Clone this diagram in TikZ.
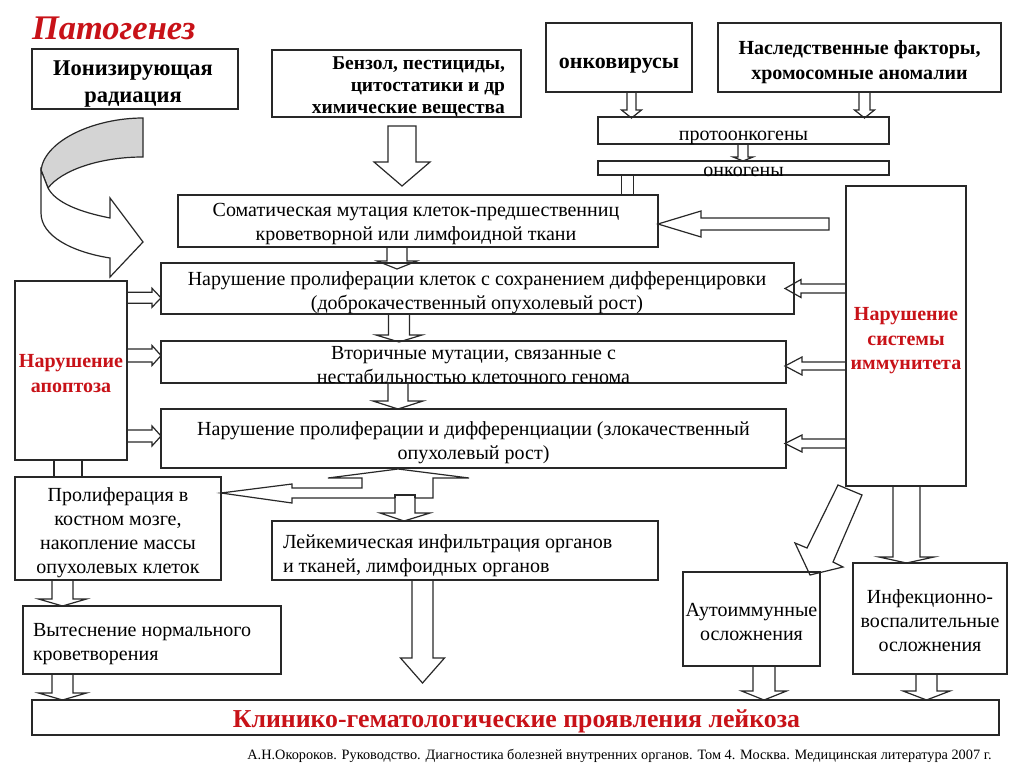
\documentclass[tikz,border=0pt]{standalone}
\usepackage{fontspec}
\setmainfont{Liberation Serif}
\definecolor{redt}{RGB}{200,18,24}
\definecolor{ribbongray}{RGB}{212,212,212}
\definecolor{linec}{RGB}{40,40,40}
\newcommand\bodyf{\fontsize{20}{24}\selectfont}
\newcommand\boldf{\fontsize{22.5}{27}\selectfont\bfseries}
\newcommand\redf{\fontsize{20}{24.5}\selectfont\bfseries\color{redt}}
% hollow block arrows: down / left / right
\newcommand\dnarr[6]{% cx, ytail, ytip, shaft half, head half, head length
  \draw[arr] ({#1-#4},#2) -- ({#1-#4},{#3-#6}) -- ({#1-#5},{#3-#6}) -- (#1,#3) -- ({#1+#5},{#3-#6}) -- ({#1+#4},{#3-#6}) -- ({#1+#4},#2) -- cycle;}
\newcommand\lfarr[6]{% cy, xtail, xtip, shaft half, head half, head length
  \draw[arr] (#2,{#1-#4}) -- ({#3+#6},{#1-#4}) -- ({#3+#6},{#1-#5}) -- (#3,#1) -- ({#3+#6},{#1+#5}) -- ({#3+#6},{#1+#4}) -- (#2,{#1+#4}) -- cycle;}
\newcommand\rtarr[6]{% cy, xtail, xtip, shaft half, head half, head length
  \draw[arr] (#2,{#1-#4}) -- ({#3-#6},{#1-#4}) -- ({#3-#6},{#1-#5}) -- (#3,#1) -- ({#3-#6},{#1+#5}) -- ({#3-#6},{#1+#4}) -- (#2,{#1+#4}) -- cycle;}
\begin{document}
\begin{tikzpicture}[x=1pt,y=-1pt,
  box/.style={draw=linec, line width=1.3pt, inner sep=0pt, outer sep=0pt},
  txt/.style={inner sep=0pt, outer sep=0pt, align=center},
  arr/.style={draw=linec, line width=1.2pt, line join=miter}]
\useasboundingbox (0,0) rectangle (1024,767);
\fill[white] (0,0) rectangle (1024,767);

% title
\node[txt, anchor=base west, font=\fontsize{34.5}{38}\selectfont\bfseries\itshape, text=redt] (title) at (32,40) {Патогенез};

% top cause boxes
\node[box, minimum width=206pt, minimum height=60pt] (ion) at (135,79) {};
\node[txt, font=\boldf] (ionT) at (133,84) {Ионизирующая\\радиация};
\node[box, minimum width=249pt, minimum height=67pt] (benz) at (396.5,83.5) {};
\node[txt, font=\fontsize{19.5}{22}\selectfont\bfseries, align=right, anchor=east] (benzT) at (505,87) {Бензол, пестициды,\\цитостатики и др\\химические вещества};
\node[box, minimum width=146pt, minimum height=69pt] (onkov) at (619,57.5) {};
\node[txt, font=\fontsize{22}{26}\selectfont\bfseries] (onkovT) at (619,66) {онковирусы};
\node[box, minimum width=283pt, minimum height=69pt] (nasl) at (859.5,57.5) {};
\node[txt, font=\fontsize{20}{25}\selectfont\bfseries] (naslT) at (859.5,62.5) {Наследственные факторы,\\хромосомные аномалии};
\node[box, minimum width=291pt, minimum height=27pt] (proto) at (743.5,130.5) {};
\node[txt, font=\bodyf] (protoT) at (743.5,137.5) {протоонкогены};
\node[box, minimum width=291pt, minimum height=14pt] (onkog) at (743.5,168) {};
\node[txt, font=\bodyf] (onkogT) at (743.5,172) {онкогены};

% main chain
\node[box, minimum width=480pt, minimum height=52pt] (soma) at (418,221) {};
\node[txt, font=\bodyf] (somaT) at (416,224) {Соматическая мутация клеток-предшественниц\\кроветворной или лимфоидной ткани};
\node[box, minimum width=633pt, minimum height=51pt] (nar1) at (477.5,288.5) {};
\node[txt, font=\bodyf] (nar1T) at (477,292.5) {Нарушение пролиферации клеток с сохранением дифференцировки\\(доброкачественный опухолевый рост)};
\node[box, minimum width=625pt, minimum height=42pt] (vtor) at (473.5,362) {};
\node[txt, font=\bodyf] (vtorT) at (473.5,365.5) {Вторичные мутации, связанные с\\нестабильностью клеточного генома};
\node[box, minimum width=625pt, minimum height=59pt] (nar2) at (473.5,438.5) {};
\node[txt, font=\bodyf] (nar2T) at (473.5,443) {Нарушение пролиферации и дифференциации (злокачественный\\опухолевый рост)};

% side boxes
\node[box, minimum width=112pt, minimum height=179pt] (apop) at (71,370.5) {};
\node[txt, font=\redf] (apopT) at (71,373.5) {Нарушение\\апоптоза};
\node[box, minimum width=120pt, minimum height=300pt] (imm) at (906,336) {};
\node[txt, font=\redf] (immT) at (906,341) {Нарушение\\системы\\иммунитета};

% lower boxes
\node[box, minimum width=206pt, minimum height=103pt] (prol) at (118,528.5) {};
\node[txt, font=\bodyf] (prolT) at (118,533) {Пролиферация в\\костном мозге,\\накопление массы\\опухолевых клеток};
\node[box, minimum width=258pt, minimum height=68pt] (vyt) at (152,640) {};
\node[txt, font=\bodyf, align=left, anchor=west] (vytT) at (33,644.5) {Вытеснение нормального\\кроветворения};
\node[box, minimum width=386pt, minimum height=59pt] (leyk) at (465,550.5) {};
\node[txt, font=\bodyf, align=left, anchor=west] (leykT) at (283,556) {Лейкемическая инфильтрация органов\\и тканей, лимфоидных органов};
\node[box, minimum width=137pt, minimum height=94pt] (auto) at (751.5,619) {};
\node[txt, font=\bodyf] (autoT) at (751.5,622) {Аутоиммунные\\осложнения};
\node[box, minimum width=154pt, minimum height=111pt] (inf) at (930,618.5) {};
\node[txt, font=\bodyf] (infT) at (930,621) {Инфекционно-\\воспалительные\\осложнения};
\node[box, minimum width=967pt, minimum height=35pt] (klin) at (515.5,717.5) {};
\node[txt, font=\fontsize{25.8}{28}\selectfont\bfseries, text=redt] (klinT) at (516.5,721.5) {Клинико-гематологические проявления лейкоза};

% footer
\node[txt, anchor=base, font=\fontsize{14.3}{16}\selectfont] (foot) at (619.5,759) {А.Н.Окороков. Руководство. Диагностика болезней внутренних органов. Том 4. Москва. Медицинская литература 2007 г.};

% curved ribbon arrow from radiation
\draw[arr, fill=ribbongray] (143,118) .. controls (95,118) and (45,140) .. (41,170) -- (48,188) .. controls (62,170) and (100,157) .. (143,157) -- cycle;
\draw[arr, fill=white] (41,170) -- (41,213) .. controls (41,236) and (72,252) .. (110,258) -- (110,277) -- (143,242) -- (110,198) -- (110,218) .. controls (80,212) and (56,203) .. (48,188) -- cycle;

% top small arrows
\dnarr{631.5}{92}{118}{4.5}{10}{8}
\dnarr{864.5}{92}{118}{5.5}{10}{8}
\dnarr{743}{144}{161}{5}{10}{4}
\draw[arr] (621.5,175) -- (621.5,195) (633.5,175) -- (633.5,195);

% chemicals -> somatic
\dnarr{402}{126}{186}{14}{28}{24}
% incoming arrow to somatic from the right
\lfarr{224}{829}{658}{6}{13}{43}

% main chain arrows
\dnarr{397}{247}{269}{10}{20}{8}
\dnarr{399}{314}{342}{10.5}{23}{7}
\dnarr{398}{383}{409}{10}{25}{8}

% apoptosis arrows
\rtarr{297.8}{127}{161}{5.5}{9.5}{9}
\rtarr{355.5}{127}{161}{6.5}{10}{9}
\rtarr{436}{127}{161}{6}{10}{9}
\draw[arr] (54,460) -- (54,477) (82,460) -- (82,477);

% immunity arrows
\lfarr{288.5}{846}{785}{4.5}{9}{16}
\lfarr{366}{846}{785}{4}{9}{17}
\lfarr{443.5}{846}{785}{4.5}{8.5}{17}

% split arrow below malignant growth
\draw[arr] (221,493) -- (292,484) -- (292,488) -- (362,488) -- (362,478) -- (328,478) -- (398,469) -- (469,478) -- (433,478) -- (433,498) -- (415,498) -- (415,513) -- (430,513) -- (404,521) -- (380,513) -- (395,513) -- (395,498) -- (292,498) -- (292,503) -- cycle;
\draw[arr] (395,498) -- (395,495) -- (415,495) -- (415,498);

% lower arrows
\dnarr{62.5}{580}{606}{10.5}{24}{7}
\dnarr{62.5}{674}{700}{10.5}{24}{7}
\dnarr{422.5}{580}{683}{10.5}{22}{25}
\dnarr{906.5}{486}{563}{13.5}{27.5}{6}
\dnarr{764}{666}{700}{11}{22.5}{9}
\dnarr{926.5}{674}{700}{10.5}{23.5}{9}
% diagonal arrow immunity -> autoimmune
\draw[arr] (838,485) -- (862,495) -- (833,562) -- (843,567) -- (810,575) -- (795,543) -- (807,548) -- cycle;
\end{tikzpicture}
\end{document}
